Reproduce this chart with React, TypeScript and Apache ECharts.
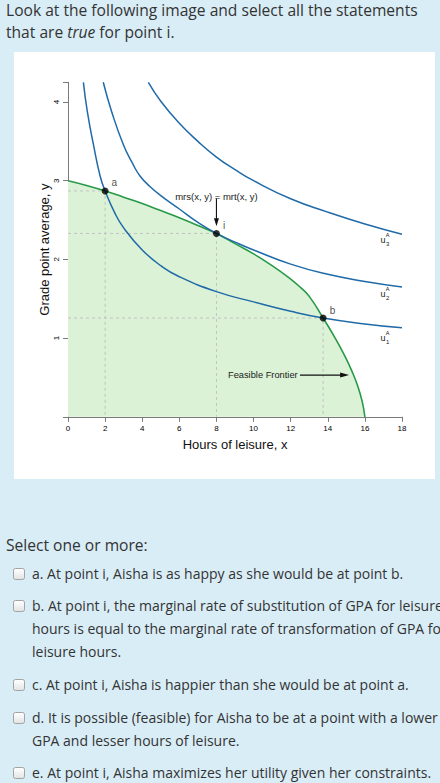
import React, { useEffect, useRef } from 'react';
import * as echarts from 'echarts';

// feasible frontier (hours of leisure, GPA)
const frontier = [
  [0, 3.0], [1, 2.94], [2, 2.87], [3, 2.79], [4, 2.71], [5, 2.62], [6, 2.53], [7, 2.43],
  [8, 2.33], [9, 2.2], [10, 2.07], [11, 1.92], [12, 1.75], [12.5, 1.65], [13, 1.53],
  [13.75, 1.255], [14.4, 1.0], [14.9, 0.78], [15.3, 0.58], [15.6, 0.4], [15.85, 0.2], [16, 0],
];
// indifference curves
const u1 = [
  [0.83, 4.25], [1.04, 3.88], [1.37, 3.46], [1.73, 3.06], [2, 2.87], [2.5, 2.6], [3, 2.4],
  [4, 2.12], [5, 1.92], [6, 1.78], [8, 1.59], [10, 1.46], [12, 1.34], [13.75, 1.255],
  [16, 1.18], [18, 1.13],
];
const u2 = [
  [1.9, 4.25], [2.35, 3.88], [2.98, 3.46], [3.5, 3.21], [3.88, 3.06], [4.4, 2.93], [5, 2.81],
  [6, 2.64], [7, 2.47], [8, 2.33], [9, 2.22], [10, 2.12], [12, 1.94], [14, 1.81],
  [16, 1.72], [18, 1.65],
];
const u3 = [
  [4.33, 4.25], [5, 4.01], [6, 3.73], [7, 3.5], [8, 3.3], [9, 3.14], [10, 3.0], [12, 2.77],
  [14, 2.6], [16, 2.45], [18, 2.32],
];
const pointNames = ['a', 'i', 'b'];
const points = [[2, 2.87], [8, 2.33], [13.75, 1.255]];
const yTicks = [0, 1, 2, 3, 4, 4.25];
const yLabels = [1, 2, 3, 4];
const uNames = ['1', '2', '3'];
const uLabelAt = [[16.98, 1.0], [16.98, 1.56], [16.98, 2.25]];

const options = [
  ['a. At point i, Aisha is as happy as she would be at point b.'],
  [
    'b. At point i, the marginal rate of substitution of GPA for leisure',
    'hours is equal to the marginal rate of transformation of GPA for',
    'leisure hours.',
  ],
  ['c. At point i, Aisha is happier than she would be at point a.'],
  [
    'd. It is possible (feasible) for Aisha to be at a point with a lower',
    'GPA and lesser hours of leisure.',
  ],
  ['e. At point i, Aisha maximizes her utility given her constraints.'],
];
const optionLineY = [[574], [606, 629, 652], [684.5], [717.5, 740.5], [773]];

const FONT = '"Liberation Sans", Arial, Helvetica, sans-serif';
const BLUE = '#1f6aa8';
const GREEN = '#279a48';

function Chart() {
  const chartRef = useRef<HTMLDivElement>(null);

  useEffect(() => {
    if (!chartRef.current) return undefined;
    const chart = echarts.init(chartRef.current, null, { renderer: 'svg' });

    const curve = (name: string, data: number[][]) => ({
      name,
      type: 'line',
      data,
      smooth: 0.5,
      symbol: 'none',
      z: 4,
      lineStyle: { color: BLUE, width: 1.5 },
    });

    const option = {
      animation: false,
      grid: { left: 54, right: 33, top: 30.3, bottom: 62.2, outerBoundsMode: 'none' },
      xAxis: {
        type: 'value',
        min: 0,
        max: 18,
        interval: 2,
        axisLine: { show: true, lineStyle: { color: '#7a7a7a', width: 1 } },
        axisTick: { show: true, length: 5, lineStyle: { color: '#7a7a7a' } },
        axisLabel: { fontSize: 8, color: '#000', margin: 8, fontFamily: FONT },
        splitLine: { show: false },
        name: 'Hours of leisure, x',
        nameLocation: 'middle',
        nameGap: 21,
        nameMoveOverlap: false,
        nameTextStyle: { fontSize: 13, color: '#111', fontFamily: FONT },
      },
      yAxis: {
        type: 'value',
        min: 0,
        max: 4.25,
        axisLine: { show: true, lineStyle: { color: '#7a7a7a', width: 1 } },
        axisTick: { show: true, length: 5, customValues: yTicks, lineStyle: { color: '#7a7a7a' } },
        axisLabel: { customValues: yLabels, rotate: 90, fontSize: 8, color: '#000', margin: 8, fontFamily: FONT },
        splitLine: { show: false },
        name: 'Grade point average, y',
        nameLocation: 'middle',
        nameGap: 17,
        nameMoveOverlap: false,
        nameTextStyle: { fontSize: 13, color: '#111', fontFamily: FONT },
      },
      series: [
        {
          name: 'frontier',
          type: 'line',
          data: frontier,
          smooth: 0.5,
          symbol: 'none',
          z: 1,
          lineStyle: { color: GREEN, width: 1.6 },
          areaStyle: { color: '#dbf2d6', opacity: 1 },
        },
        ...points.map((p, k) => ({
          name: 'guide' + k,
          type: 'line',
          data: [[0, p[1]], [p[0], p[1]], [p[0], 0]],
          symbol: 'none',
          z: 2,
          lineStyle: { color: '#c2c2c2', width: 1, type: [3, 3] },
        })),
        curve('u1', u1),
        curve('u2', u2),
        curve('u3', u3),
        {
          name: 'points',
          type: 'scatter',
          data: points.map((p, k) => ({ value: p, name: pointNames[k] })),
          symbolSize: 7,
          z: 6,
          itemStyle: { color: '#000' },
          label: {
            show: true,
            formatter: '{b}',
            position: 'right',
            distance: 3,
            offset: [0, -8],
            fontSize: 10,
            color: '#222',
            fontFamily: FONT,
          },
        },
      ],
    };
    chart.setOption(option);

    const px = (p: number[]) => chart.convertToPixel({ gridIndex: 0 }, p) as number[];
    const txt = { fontFamily: FONT, fill: '#1a1a1a' };

    const mrs = px([8, 2.8]);
    const mrsTip = px([8, 2.42]);
    const ffRight = px([12.38, 0.53]);
    const ffStart = px([12.5, 0.53]);
    const ffEnd = px([15.15, 0.53]);

    const graphic: any[] = [
      { type: 'text', x: mrs[0], y: mrs[1], z: 10, style: { ...txt, text: 'mrs(x, y) = mrt(x, y)', fontSize: 9.5, align: 'center', verticalAlign: 'middle' } },
      { type: 'line', z: 10, shape: { x1: mrs[0], y1: mrs[1] + 2, x2: mrsTip[0], y2: mrsTip[1] - 6 }, style: { stroke: '#111', lineWidth: 1.1 } },
      { type: 'polygon', z: 10, shape: { points: [[mrsTip[0] - 2.5, mrsTip[1] - 8], [mrsTip[0] + 2.5, mrsTip[1] - 8], [mrsTip[0], mrsTip[1]]] }, style: { fill: '#111' } },
      { type: 'text', x: ffRight[0], y: ffRight[1], z: 10, style: { ...txt, text: 'Feasible Frontier', fontSize: 9.3, align: 'right', verticalAlign: 'middle' } },
      { type: 'line', z: 10, shape: { x1: ffStart[0], y1: ffStart[1], x2: ffEnd[0] - 6, y2: ffEnd[1] }, style: { stroke: '#111', lineWidth: 1.1 } },
      { type: 'polygon', z: 10, shape: { points: [[ffEnd[0] - 9, ffEnd[1] - 2.5], [ffEnd[0] - 9, ffEnd[1] + 2.5], [ffEnd[0], ffEnd[1]]] }, style: { fill: '#111' } },
    ];
    uLabelAt.forEach((p, k) => {
      const q = px(p);
      graphic.push(
        { type: 'text', x: q[0], y: q[1], z: 10, style: { ...txt, text: 'u', fontSize: 9, align: 'center', verticalAlign: 'middle' } },
        { type: 'text', x: q[0] + 4.6, y: q[1] - 5.2, z: 10, style: { ...txt, text: 'A', fontSize: 5.5, align: 'center', verticalAlign: 'middle' } },
        { type: 'text', x: q[0] + 4.6, y: q[1] + 3.8, z: 10, style: { ...txt, text: uNames[k], fontSize: 6, align: 'center', verticalAlign: 'middle' } },
      );
    });
    chart.setOption({ graphic });

    return () => {
      chart.dispose();
    };
  }, []);

  return (
    <div
      ref={chartRef}
      style={{ position: 'absolute', left: 14, top: 52, width: 421, height: 427, background: '#fff' }}
    />
  );
}

export default function App() {
  const line = (top: number, left: number, size: number, text: React.ReactNode, key?: string) => (
    <div
      key={key}
      style={{
        position: 'absolute',
        left,
        top: top - 11,
        height: 22,
        lineHeight: '22px',
        fontSize: size,
        whiteSpace: 'nowrap',
      }}
    >
      {text}
    </div>
  );

  return (
    <div
      style={{
        position: 'fixed',
        left: 0,
        top: 0,
        width: 440,
        height: 783,
        overflow: 'hidden',
        background: '#d9edf7',
        color: '#333',
        fontFamily: '"Open Sans", "Noto Sans", sans-serif',
      }}
    >
      {line(10, 6, 15.6, 'Look at the following image and select all the statements')}
      {line(32, 6, 15.6, <span>that are <i>true</i> for point i.</span>)}
      <Chart />
      {line(545, 6, 15.6, 'Select one or more:')}
      {options.map((opt, k) => (
        <React.Fragment key={k}>
          <div
            style={{
              position: 'absolute',
              left: 12.5,
              top: optionLineY[k][0] - 6,
              width: 10,
              height: 10,
              border: '1px solid #a3a3a3',
              borderRadius: 2.5,
              background: 'linear-gradient(#ffffff, #e4e4e4)',
            }}
          />
          {opt.map((t, j) => line(optionLineY[k][j], 32, 14, t, k + '-' + j))}
        </React.Fragment>
      ))}
    </div>
  );
}
